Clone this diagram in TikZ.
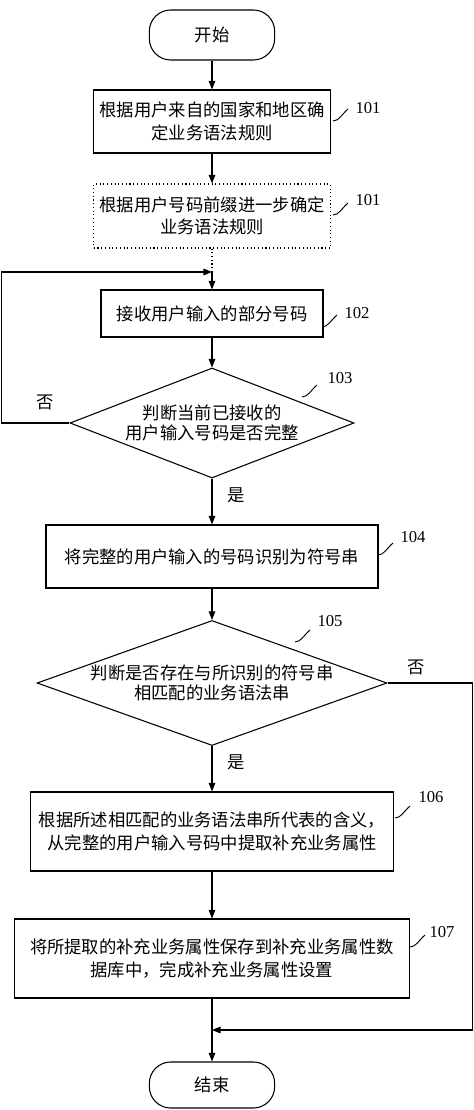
\documentclass[tikz,border=0pt]{standalone}
\usepackage{fontspec}
\setmainfont{Liberation Serif}
\newfontfamily\cjk{Noto Sans CJK SC}
\usetikzlibrary{arrows.meta,shapes.geometric}

% small leader mark next to a step number
\newcommand{\leadmark}[2]{\draw[lead] (#1,#2) .. controls (#1+6,#2) and (#1+9,#2-7) .. (#1+15,#2-12);}

\begin{document}
\begin{tikzpicture}[x=0.75pt,y=0.75pt,yscale=-1,xscale=1,
  box/.style={draw,line width=0.8pt,align=center,inner sep=0pt,font={\cjk\fontsize{13}{17}\selectfont}},
  dotbox/.style={box,dotted},
  term/.style={box,rounded corners=16pt,minimum width=94pt},
  decision/.style={draw,diamond,line width=0.8pt,align=center,inner sep=0pt,font={\cjk\fontsize{13}{15}\selectfont}},
  arr/.style={line width=0.8pt,-{Triangle[length=6.5pt,width=5pt]}},
  lead/.style={line width=0.7pt},
  num/.style={font={\fontsize{12.5}{14}\selectfont}},
  lbl/.style={font={\cjk\fontsize{13}{15}\selectfont}}]
\useasboundingbox (0,0) rectangle (474,1110);

% Terminal
\node[term,minimum height=37.5pt] (start) at (212,35) {开始};
% Text Node
\node[box,minimum width=177.4pt,minimum height=47.25pt] (b101a) at (212,121.5) {根据用户来自的国家和地区确\\定业务语法规则};
% Text Node
\node[dotbox,minimum width=177.4pt,minimum height=48pt] (b101b) at (212,216) {根据用户号码前缀进一步确定\\业务语法规则};
% Text Node
\node[box,minimum width=166.5pt,minimum height=35.25pt] (b102) at (212,313.5) {接收用户输入的部分号码};
% Decision
\node[decision,aspect=2.58,minimum width=213pt,minimum height=82.5pt] (d103) at (212,423) {判断当前已接收的\\用户输入号码是否完整};
% Text Node
\node[box,minimum width=249pt,minimum height=47.25pt] (b104) at (212,556.5) {将完整的用户输入的号码识别为符号串};
% Decision
\node[decision,aspect=2.8,minimum width=262.5pt,minimum height=93.75pt] (d105) at (212,683) {判断是否存在与所识别的符号串\\相匹配的业务语法串};
% Text Node
\node[box,minimum width=272.25pt,minimum height=59.25pt] (b106) at (212,831.5) {根据所述相匹配的业务语法串所代表的含义，\\从完整的用户输入号码中提取补充业务属性};
% Text Node
\node[box,minimum width=296.25pt,minimum height=59.25pt] (b107) at (212,958.5) {将所提取的补充业务属性保存到补充业务属性数\\据库中，完成补充业务属性设置};
% Terminal
\node[term,minimum height=34.5pt] (stop) at (212,1085) {结束};

% Bends
\coordinate (join) at (212,272);
\coordinate (loopL) at (1.5,423);
\coordinate (rightR) at (472.5,683);
\coordinate (merge) at (212,1030);

%Straight Lines
\draw[arr] (start) -- (b101a);
\draw[arr] (b101a) -- (b101b);
\draw[dotted,line width=0.8pt] (b101b) -- (join);
\draw[arr] (join) -- (b102);
\draw[arr] (b102) -- (d103);
\draw[arr] (d103.west) -- (loopL) |- (join);
\draw[arr] (d103) -- (b104);
\draw[arr] (b104) -- (d105);
\draw[arr] (d105) -- (b106);
\draw[arr] (d105.east) -- (rightR) |- (merge);
\draw[arr] (b106) -- (b107);
\draw[arr] (b107) -- (stop);

% Branch labels
\node[lbl] (no103) at (45,402) {否};
\node[lbl] (yes103) at (236,495) {是};
\node[lbl] (no105) at (416,667) {否};
\node[lbl] (yes105) at (236,762) {是};

% Step numbers
\node[num] (n101a) at (368,108) {101};
\node[num] (n101b) at (368,200) {101};
\node[num] (n102) at (357,313) {102};
\node[num] (n103) at (340,378) {103};
\node[num] (n104) at (413,537) {104};
\node[num] (n105) at (330,621) {105};
\node[num] (n106) at (431,797) {106};
\node[num] (n107) at (442,932) {107};
\leadmark{333}{121}
\leadmark{333}{215}
\leadmark{322}{327}
\leadmark{302}{397}
\leadmark{378}{555}
\leadmark{295}{642}
\leadmark{395}{818}
\leadmark{410}{947}

\end{tikzpicture}
\end{document}
